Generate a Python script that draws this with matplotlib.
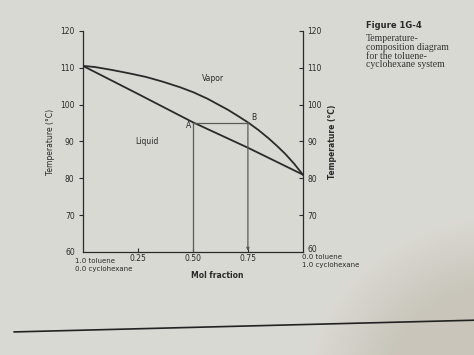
import matplotlib
matplotlib.use("Agg")
import matplotlib.pyplot as plt
import numpy as np
from matplotlib.lines import Line2D

# mole fraction of cyclohexane (0 = pure toluene), temperature in degC
x_liquid = [0.0, 0.25, 0.50, 0.75, 1.0]
t_liquid = [110.5, 102.9, 95.2, 88.3, 81.0]
x_vapor = [0.0, 0.054, 0.132, 0.209, 0.287, 0.364, 0.442, 0.504, 0.566,
           0.659, 0.705, 0.752, 0.798, 0.845, 0.884, 0.922, 0.961, 1.0]
t_vapor = [110.5, 110.2, 109.4, 108.5, 107.5, 106.2, 104.7, 103.3, 101.6,
           98.6, 96.9, 95.1, 93.1, 90.8, 88.7, 86.5, 83.9, 81.0]

# tie line A-B
tie_x = [0.50, 0.75]
tie_t = 95.1

yticks = [70, 80, 90, 100, 110, 120]
xticks = [0.25, 0.50, 0.75]
xtick_labels = ["0.25", "0.50", "0.75"]

paper = "#dad9d3"
ink = "#2a2a2a"
grey = "#5a5a5a"

fig = plt.figure(figsize=(4.74, 3.55), dpi=100, facecolor=paper)

# photographed page: light paper with a shadow in the lower right corner
bg = fig.add_axes([0, 0, 1, 1], zorder=-10)
px, py = np.meshgrid(np.arange(474), np.arange(355))
d = np.hypot((px - 500) * 0.9, py - 390)
shade = np.clip((175 - d) / 70, 0, 1) * 0.25
base = np.array([218, 217, 211]) / 255
tint = np.array([150, 140, 115]) / 255
img = base[None, None, :] * (1 - shade[..., None]) + tint[None, None, :] * shade[..., None]
bg.imshow(img, aspect="auto", extent=[0, 1, 0, 1], origin="upper")
bg.axis("off")

ax = fig.add_axes([0.175, 0.290, 0.464, 0.623])
ax.patch.set_alpha(0)

ax.plot(x_liquid, t_liquid, color=ink, lw=1.3)
ax.plot(x_vapor, t_vapor, color=ink, lw=1.3)

ax.plot(tie_x, [tie_t, tie_t], color=grey, lw=0.9)
ax.plot([tie_x[0], tie_x[0]], [tie_t, 60], color=grey, lw=0.9)
ax.annotate("", xy=(tie_x[1], 60.3), xytext=(tie_x[1], tie_t),
            arrowprops=dict(arrowstyle="-|>", color=grey, lw=0.9,
                            mutation_scale=4, shrinkA=0, shrinkB=0))

ax.text(0.59, 107.0, "Vapor", fontsize=5.5, color=ink, ha="center", va="center")
ax.text(0.29, 90.0, "Liquid", fontsize=5.5, color=ink, ha="center", va="center")
ax.text(0.49, 94.3, "A", fontsize=5.5, color=ink, ha="right", va="center")
ax.text(0.765, 96.5, "B", fontsize=5.5, color=ink, ha="left", va="center")

ax.set_xlim(0, 1)
ax.set_ylim(60, 120)
ax.spines["top"].set_visible(False)
ax.spines["right"].set_visible(False)
for s in ["left", "bottom"]:
    ax.spines[s].set_color(ink)
    ax.spines[s].set_linewidth(0.9)

ax.set_yticks(yticks)
ax.tick_params(axis="y", direction="out", length=3, width=0.8,
               labelsize=5.5, colors=ink, pad=3)
ax.set_xticks(xticks)
ax.set_xticklabels(xtick_labels)
ax.tick_params(axis="x", direction="in", length=3, width=0.8,
               labelsize=5.5, colors=ink, pad=1.5)

# right hand temperature axis
ax2 = ax.twinx()
ax2.patch.set_alpha(0)
ax2.set_ylim(60, 120)
ax2.set_yticks(yticks)
ax2.spines["top"].set_visible(False)
ax2.spines["left"].set_visible(False)
ax2.spines["bottom"].set_visible(False)
ax2.spines["right"].set_color(ink)
ax2.spines["right"].set_linewidth(0.9)
ax2.tick_params(axis="y", direction="in", length=3, width=0.8,
                labelsize=5.5, colors=ink, pad=3)

# corner labels for the 60 line
ax.text(-0.035, 60.0, "60", fontsize=5.5, color=ink, ha="right", va="center",
        clip_on=False)
ax.text(1.02, 60.8, "60", fontsize=5.5, color=ink, ha="left", va="center",
        clip_on=False)
ax.text(-0.035, 58.3, "1.0 toluene\n0.0 cyclohexane", fontsize=5, color=ink,
        ha="left", va="top", linespacing=1.35, clip_on=False)
ax.text(0.995, 59.5, "0.0 toluene\n1.0 cyclohexane", fontsize=5, color=ink,
        ha="left", va="top", linespacing=1.35, clip_on=False)

ax.text(0.61, 53.6, "Mol fraction", fontsize=5.5, color=ink, ha="center",
        va="center", fontweight="bold", clip_on=False)

ax.set_ylabel("Temperature (\u00b0C)", fontsize=5.5, color=ink, labelpad=4)
ax2.set_ylabel("Temperature (\u00b0C)", fontsize=5.5, color=ink, labelpad=5,
               fontweight="bold")

fig.text(0.772, 0.927, "Figure 1G-4", fontsize=6, fontweight="bold",
         color=ink, ha="left", va="center")
fig.text(0.772, 0.903, "Temperature-\ncomposition diagram\nfor the toluene-\ncyclohexane system",
         fontsize=7, family="Liberation Serif", color="#333333", ha="left",
         va="top", linespacing=0.95)

# page edge rule near the bottom of the photo
fig.add_artist(Line2D([0.03, 1.0], [0.065, 0.098], color="#222222", lw=1.2))

fig.savefig("out.png", dpi=100, facecolor=paper)
